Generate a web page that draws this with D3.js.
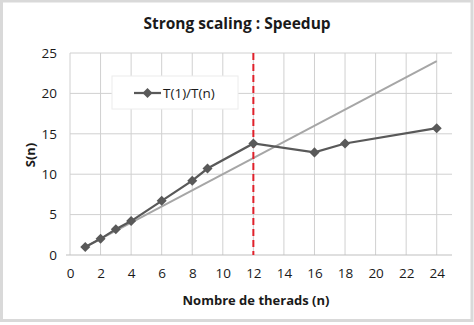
<!DOCTYPE html>
<html><head><meta charset="utf-8">
<script src="https://cdn.jsdelivr.net/npm/d3@7"></script>
<style>body{margin:0;background:#fff}text{font-family:"Open Sans",sans-serif}</style>
</head><body><svg id="c" width="474" height="325"></svg>
<script>
const threads = [1, 2, 3, 4, 6, 8, 9, 12, 16, 18, 24];
const speedup = [1.0, 2.0, 3.2, 4.2, 6.7, 9.2, 10.7, 13.8, 12.7, 13.8, 15.7];
const idealX = [1, 24];
const idealY = [1, 24];
const xTicks = [0, 2, 4, 6, 8, 10, 12, 14, 16, 18, 20, 22, 24];
const yTicks = [0, 5, 10, 15, 20, 25];
const markerLine = 12;
const title = "Strong scaling : Speedup";
const xTitle = "Nombre de therads (n)";
const yTitle = "S(n)";
const seriesName = "T(1)/T(n)";

const svg = d3.select("#c");
svg.append("rect").attr("x",1.5).attr("y",1).attr("width",470.5).attr("height",319.5)
  .attr("fill","#fff").attr("stroke","#d9d9d9").attr("stroke-width",3);

const x = d3.scaleLinear().domain([0,25]).range([70,452]);
const y = d3.scaleLinear().domain([0,25]).range([255,53]);

// gridlines
svg.append("g").selectAll("line").data(yTicks.filter(d=>d>0)).join("line")
  .attr("x1",x(0)).attr("x2",x(25)).attr("y1",d=>y(d)).attr("y2",d=>y(d))
  .attr("stroke","#d0d0d0").attr("stroke-width",1);
svg.append("g").selectAll("line").data(xTicks).join("line")
  .attr("x1",d=>x(d)).attr("x2",d=>x(d)).attr("y1",y(0)).attr("y2",y(25))
  .attr("stroke","#d0d0d0").attr("stroke-width",1);

// axes
const xa = svg.append("g").attr("transform",`translate(0,${y(0)})`)
  .call(d3.axisBottom(x).tickValues(xTicks).tickSize(0).tickPadding(13));
xa.select(".domain").attr("stroke","#bfbfbf").attr("d",`M${x(0)-4},0H${x(25)}`);
xa.selectAll("text").attr("font-size",13.5).attr("fill","#1a1a1a");
const ya = svg.append("g").attr("transform",`translate(${x(0)},0)`)
  .call(d3.axisLeft(y).tickValues(yTicks).tickSize(0).tickPadding(13));
ya.select(".domain").remove();
ya.selectAll("text").attr("font-size",13.5).attr("fill","#1a1a1a");

// ideal line
svg.append("line").attr("x1",x(idealX[0])).attr("y1",y(idealY[0]))
  .attr("x2",x(idealX[1])).attr("y2",y(idealY[1]))
  .attr("stroke","#a6a6a6").attr("stroke-width",2);

// red dashed line
svg.append("line").attr("x1",x(markerLine)).attr("x2",x(markerLine))
  .attr("y1",y(25)).attr("y2",y(0))
  .attr("stroke","#e0202a").attr("stroke-width",2).attr("stroke-dasharray","7,4");

// series
const pts = threads.map((t,i)=>[t,speedup[i]]);
svg.append("path").datum(pts)
  .attr("d",d3.line().x(d=>x(d[0])).y(d=>y(d[1])))
  .attr("fill","none").attr("stroke","#595959").attr("stroke-width",2.25);
const diamond = d3.symbol().type(d3.symbolDiamond2).size(64);
svg.append("g").selectAll("path").data(pts).join("path")
  .attr("transform",d=>`translate(${x(d[0])},${y(d[1])})`)
  .attr("d",diamond).attr("fill","#595959");

// legend
const lg = svg.append("g");
lg.append("rect").attr("x",112).attr("y",76).attr("width",126).attr("height",33)
  .attr("fill","#fff").attr("stroke","#ececec");
lg.append("line").attr("x1",134).attr("x2",161).attr("y1",93).attr("y2",93)
  .attr("stroke","#595959").attr("stroke-width",2.25);
lg.append("path").attr("transform","translate(147.5,93)").attr("d",diamond).attr("fill","#595959");
lg.append("text").attr("x",163).attr("y",98).attr("font-size",13.5).attr("fill","#1a1a1a").text(seriesName);

// titles
svg.append("text").attr("x",237).attr("y",29).attr("text-anchor","middle")
  .attr("font-size",15.5).attr("font-weight","bold").attr("fill","#1a1a1a").text(title);
svg.append("text").attr("x",256).attr("y",305).attr("text-anchor","middle")
  .attr("font-size",13).attr("font-weight","bold").attr("fill","#1a1a1a").text(xTitle);
svg.append("text").attr("transform","translate(35,155) rotate(-90)").attr("text-anchor","middle")
  .attr("font-size",13).attr("font-weight","bold").attr("fill","#1a1a1a").text(yTitle);
</script></body></html>
